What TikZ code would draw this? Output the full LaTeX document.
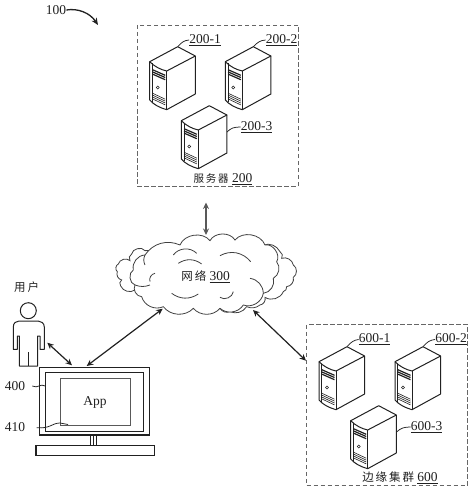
\documentclass[tikz,border=0pt]{standalone}
\usepackage{fontspec}
\setmainfont{Liberation Serif}
\newfontfamily\cjk{Noto Sans CJK SC}
\usetikzlibrary{arrows.meta}
\definecolor{ink}{gray}{0.13}
\tikzset{
 ln/.style={draw=ink,line width=1pt,line join=round},
 lead/.style={draw=ink,line width=0.75pt},
 lat/.style={font=\fontsize{13.5}{14}\selectfont,text=ink,inner sep=0pt},
 han/.style={font=\fontsize{13.5}{14}\selectfont,text=ink,inner sep=0pt},
 dashbox/.style={draw=black!60,line width=0.9pt,dash pattern=on 4.5pt off 2.5pt,minimum width=161pt,minimum height=161pt,inner sep=0pt},
 link/.style={draw=ink,line width=1.2pt,{Stealth[length=6.5pt,width=6pt]}-{Stealth[length=6.5pt,width=6pt]}},
 cl/.style={draw=black!75,line width=0.8pt},
 server/.pic={
  \path[ln,fill=white] (0,0) -- (28,-15) -- (45.6,-5.7) -- (45.6,32.3) -- (17,48) .. controls (10,46) and (4,43) .. (0,38.3) -- cycle;
  \draw[ln] (0,0) .. controls (5,5) and (11,8) .. (17,9.3) -- (45.6,-5.7);
  \draw[ln] (17,9.3) -- (17,48);
  \draw[lead,line width=0.5pt] (2.6,1.8) -- (2.6,40);
  \foreach \d in {8,10.2,12.4}
   \draw[ink,line width=1.2pt] (2.8,\d) -- (15.5,\d+5.6);
  \draw[ink,line width=0.6pt] (8,25.8) circle (1.5);
  \foreach \d in {31.5,33.4,35.3,37.2}
   \draw[ink,line width=0.6pt] (2.8,\d) -- (15.5,\d+6);
 },
 x=1pt,y=-1pt
}
\begin{document}
\begin{tikzpicture}
\useasboundingbox (0,0) rectangle (474,492);
% label 100
\node[lat] (l100) at (56,10) {100};
\coordinate (a100) at (98,25);
\draw[draw=ink,line width=1.3pt,-{Stealth[length=7pt,width=6pt]}] (l100.east) .. controls (78,8) and (90,13) .. (a100);
% servers 200
\node[dashbox] (s200) at (217.5,105.5) {};
\pic at (149.7,61.7) {server};
\pic at (225.3,61.7) {server};
\pic at (181.3,120.7) {server};
\node[lat] (l2001) at (205,40) {\underline{200-1}};
\node[lat] (l2002) at (281.5,40) {\underline{200-2}};
\node[lat] (l2003) at (256.5,127) {\underline{200-3}};
\coordinate (t2001) at (177.7,46.7);
\coordinate (t2002) at (253.3,46.7);
\coordinate (t2003) at (227,132);
\draw[lead] (t2001) .. controls (182,42) and (184,40.5) .. (l2001.west);
\draw[lead] (t2002) .. controls (258,42) and (260,40.5) .. (l2002.west);
\draw[lead] (t2003) .. controls (231,128) and (234,127) .. (l2003.west);
\node[han] (l200) at (223,179) {{\fontsize{10.5}{13}\cjk\selectfont 服\,务\,器}\ \underline{200}};
% cloud
\begin{scope}[shift={(100pt,-190pt)},x=0.3333pt,y=-0.3333pt]
 \draw[cl,fill=white] (135,182) to[bend right=70] (95,192) to[bend right=50] (90,212) to[bend right=60] (55,222) to[bend right=60] (52,245) to[bend right=50] (65,270) to[bend right=50] (62,288) to[bend right=50] (105,300) -- (360,355) to[bend right=40] (390,365) to[bend right=40] (440,350) to[bend right=30] (480,345) to[bend right=50] (495,322) to[bend right=50] (550,305) to[bend right=40] (560,290) to[bend right=50] (580,262) to[bend right=60] (580,225) to[bend right=50] (545,205) to[bend right=50] (540,185) to[bend right=40] (490,165) -- cycle;
 \draw[cl,fill=white] (135,195) to[bend left=40] (240,165) to[bend left=60] (330,152) to[bend left=60] (405,150) to[bend left=60] (495,165) to[bend left=70] (530,215) to[bend left=50] (520,265) to[bend left=50] (490,310) to[bend left=50] (430,345) to[bend left=50] (360,355) to[bend left=50] (280,355) to[bend left=50] (190,350) to[bend left=50] (125,320) to[bend left=60] (105,285) to[bend left=70] (100,240) to[bend left=50] cycle;
 \draw[cl] (220,195) to[bend left=50] (290,190);
 \draw[cl] (235,220) to[bend left=35] (305,222);
 \draw[cl] (165,250) to[bend right=50] (150,275);
 \draw[cl] (215,310) to[bend right=35] (295,312);
 \draw[cl] (360,197) to[bend left=40] (452,215);
 \draw[cl] (360,322) to[bend right=60] (400,305);
 \draw[cl] (450,265) to[bend left=40] (490,310);
 \draw[cl] (105,285) to[bend right=20] (150,285);
 \draw[cl] (135,195) to[bend right=25] (135,225);
\end{scope}
\node[han] (l300) at (205.7,277) {{\fontsize{11.5}{13}\cjk\selectfont 网\,络}\ \underline{300}};
\coordinate (cTop) at (206,235);
\coordinate (cLeft) at (162.7,308.7);
\coordinate (cRight) at (253,310);
\coordinate (s200b) at (206,202.5);
% person
\node[han] (luser) at (26.7,287) {{\fontsize{11.5}{13}\cjk\selectfont 用\,户}};
\node[draw=ink,line width=1pt,circle,minimum size=16pt,inner sep=0pt] (head) at (28.3,310.7) {};
\draw[ln] (17.3,349.3) -- (13.3,349.3) -- (13.3,327) .. controls (13.3,323) and (16,321) .. (19,321) -- (38,321) .. controls (41,321) and (44.3,323) .. (44.3,327) -- (44.3,349.3) -- (40,349.3) -- (40,336) -- (37.7,336) -- (37.7,366) -- (19.3,366) -- (19.3,336) -- (17.3,336) -- cycle;
\draw[ln] (28.3,352) -- (28.3,366);
\coordinate (uArm) at (47.3,342.7);
% monitor
\node[draw=ink,line width=1.2pt,minimum width=110pt,minimum height=67.7pt,inner sep=0pt] (mon) at (94.3,401.2) {};
\node[draw=ink,line width=1.1pt,minimum width=98pt,minimum height=58.7pt,inner sep=0pt] (scr) at (94.3,401.7) {};
\node[draw=black!65,line width=1pt,minimum width=70pt,minimum height=47.4pt,inner sep=0pt,font=\fontsize{13.5}{14}\selectfont,text=ink] (app) at (95,402) {App};
\draw[ln] (90,435) -- (90,445) (93,435) -- (93,445) (96,435) -- (96,445);
\node[draw=ink,line width=1.1pt,minimum width=118.3pt,minimum height=10.3pt,inner sep=0pt] (base) at (95.1,450.2) {};
\coordinate (mA) at (72,365.3);
\coordinate (mB) at (86.7,366);
\node[lat] (l400) at (15,385.7) {400};
\node[lat] (l410) at (15,426.7) {410};
\coordinate (t400) at (45.3,386);
\coordinate (s400) at (32.3,386);
\coordinate (s410) at (36.7,427.7);
\coordinate (t410) at (68,424.5);
\draw[lead] (s400) .. controls (38,389) and (40,383) .. (t400);
\draw[lead] (s410) .. controls (50,429) and (52,423) .. (60,423) -- (t410);
% links
\draw[link] (uArm) -- (mA);
\draw[link] (mB) -- (cLeft);
\draw[link,draw=black!65] (s200b) -- (cTop);
% servers 600
\node[dashbox] (s600) at (387.2,405.4) {};
\coordinate (s600l) at (306,360.7);
\draw[link] (cRight) -- (s600l);
\pic at (319,361.7) {server};
\pic at (395,361.7) {server};
\pic at (350.7,420.7) {server};
\node[lat] (l6001) at (374.5,339.5) {\underline{600-1}};
\node[lat] (l6002) at (451,339.5) {\underline{600-2}};
\node[lat] (l6003) at (426.5,427) {\underline{600-3}};
\coordinate (t6001) at (347,346.7);
\coordinate (t6002) at (423,346.7);
\coordinate (t6003) at (396.5,432);
\draw[lead] (t6001) .. controls (351,342) and (354,340) .. (l6001.west);
\draw[lead] (t6002) .. controls (427,342) and (430,340) .. (l6002.west);
\draw[lead] (t6003) .. controls (401,428) and (404,427) .. (l6003.west);
\node[han] (l600) at (400,478) {{\fontsize{11.5}{13}\cjk\selectfont 边\,缘\,集\,群}\ \underline{600}};
\end{tikzpicture}
\end{document}
